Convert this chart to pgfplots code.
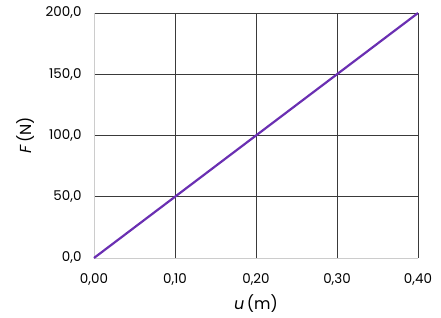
\documentclass[border=0pt]{standalone}
\usepackage{pgfplots}
\pgfplotsset{compat=1.18}
\usepackage{fontspec}
\setmainfont{Poppins}
\definecolor{lineC}{HTML}{6A2FB2}
\definecolor{gridC}{HTML}{3A3A3A}
\definecolor{axC}{HTML}{CCCCCC}
\begin{document}
\begin{tikzpicture}
\begin{axis}[
  at={(0,0)}, anchor=south west,
  scale only axis, width=324bp, height=245bp,
  xmin=0, xmax=0.4, ymin=0, ymax=200,
  xtick={0,0.1,0.2,0.3,0.4},
  ytick={0,50,100,150,200},
  xticklabels={{0,00},{0,10},{0,20},{0,30},{0,40}},
  yticklabels={{0,0},{50,0},{100,0},{150,0},{200,0}},
  tick style={draw=none},
  grid=major,
  major grid style={gridC, line width=0.8pt},
  axis x line*=bottom, axis y line*=left,
  axis line style={axC, line width=1pt, -},
  ticklabel style={font=\fontsize{13.5}{16}\selectfont, text=black},
  xticklabel style={yshift=-12bp},
  yticklabel style={xshift=-9bp},
  xlabel={\textit{u}\,(m)},
  ylabel={\textit{F}\,(N)},
  label style={font=\fontsize{16}{19}\selectfont},
  xlabel style={yshift=-2bp},
  ylabel style={yshift=4bp},
  clip=false,
]
\addplot[lineC, line width=2.2pt] coordinates {(0,0) (0.1,50) (0.2,100) (0.3,150) (0.4,200)};
\end{axis}
\pgfresetboundingbox
\path[use as bounding box] (-94bp,-60bp) rectangle (347bp,258bp);
\end{tikzpicture}
\end{document}
